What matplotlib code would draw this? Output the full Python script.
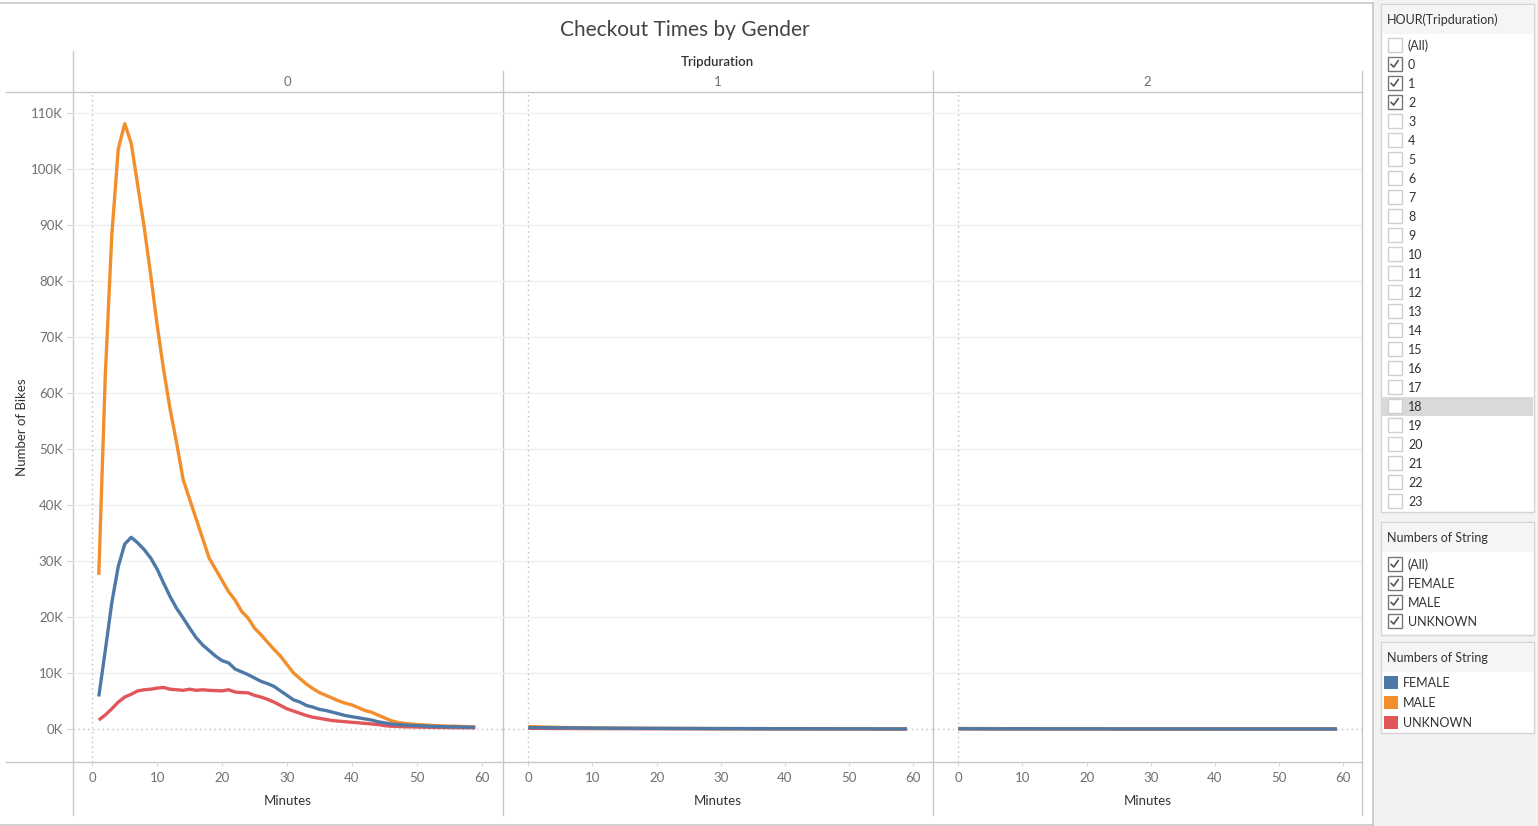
import matplotlib
matplotlib.use('Agg')
import matplotlib.pyplot as plt
from matplotlib.patches import Rectangle
from matplotlib.ticker import FuncFormatter

plt.rcParams['font.family'] = ['Lato', 'DejaVu Sans']

W, H = 1538, 826

# ---- data: number of bikes (thousands) per trip minute, per trip hour ----
hours = ['0', '1', '2']
genders = ['FEMALE', 'MALE', 'UNKNOWN']
colors = {'FEMALE': '#4e79a7', 'MALE': '#f28e2b', 'UNKNOWN': '#e15759'}

minutes_h0 = list(range(1, 60))
minutes_h12 = list(range(0, 60))

female_h0 = [5.8, 14, 22.5, 29, 33, 34.2, 33.2, 32, 30.5, 28.5,
             26, 23.6, 21.5, 19.8, 18, 16.3, 15, 14, 13, 12.2,
             11.8, 10.7, 10.2, 9.7, 9.1, 8.5, 8.1, 7.6, 6.8, 6,
             5.2, 4.8, 4.2, 3.9, 3.5, 3.3, 3.0, 2.7, 2.4, 2.2,
             2.0, 1.8, 1.6, 1.3, 1.1, 0.9, 0.8, 0.7, 0.65, 0.6,
             0.55, 0.5, 0.45, 0.42, 0.4, 0.38, 0.35, 0.32, 0.3]
male_h0 = [27.5, 63, 88, 103.5, 108, 104.5, 97, 89.5, 81, 72,
           64, 57, 51, 44.5, 41, 37.5, 34, 30.5, 28.5, 26.5,
           24.5, 23, 21, 19.8, 18, 16.8, 15.5, 14.2, 13, 11.5,
           10, 9, 8, 7.2, 6.5, 6, 5.5, 5, 4.6, 4.3,
           3.8, 3.3, 3, 2.5, 2, 1.5, 1.2, 1.0, 0.9, 0.8,
           0.75, 0.65, 0.6, 0.55, 0.5, 0.5, 0.45, 0.4, 0.4]
unknown_h0 = [1.6, 2.5, 3.6, 4.8, 5.7, 6.2, 6.8, 7.0, 7.1, 7.3,
              7.4, 7.1, 7.0, 6.9, 7.1, 6.9, 7.0, 6.9, 6.85, 6.8,
              7.0, 6.6, 6.5, 6.45, 6.0, 5.7, 5.3, 4.8, 4.2, 3.6,
              3.2, 2.8, 2.4, 2.1, 1.9, 1.7, 1.5, 1.4, 1.3, 1.2,
              1.1, 1.0, 0.9, 0.8, 0.6, 0.5, 0.45, 0.4, 0.38, 0.35,
              0.33, 0.3, 0.28, 0.27, 0.25, 0.24, 0.23, 0.22, 0.2]

female_h1 = [0.26, 0.25, 0.24, 0.23, 0.22, 0.21, 0.20, 0.19, 0.18, 0.17,
             0.16, 0.16, 0.15, 0.14, 0.14, 0.13, 0.13, 0.12, 0.12, 0.11,
             0.11, 0.10, 0.10, 0.10, 0.09, 0.09, 0.09, 0.08, 0.08, 0.08,
             0.07, 0.07, 0.07, 0.07, 0.06, 0.06, 0.06, 0.06, 0.05, 0.05,
             0.05, 0.05, 0.05, 0.04, 0.04, 0.04, 0.04, 0.04, 0.03, 0.03,
             0.03, 0.03, 0.03, 0.03, 0.02, 0.02, 0.02, 0.02, 0.02, 0.02]
male_h1 = [0.42, 0.40, 0.37, 0.34, 0.31, 0.28, 0.26, 0.24, 0.22, 0.21,
           0.20, 0.19, 0.18, 0.17, 0.16, 0.16, 0.15, 0.14, 0.14, 0.13,
           0.13, 0.12, 0.12, 0.11, 0.11, 0.10, 0.10, 0.10, 0.09, 0.09,
           0.09, 0.08, 0.08, 0.08, 0.07, 0.07, 0.07, 0.07, 0.06, 0.06,
           0.06, 0.06, 0.05, 0.05, 0.05, 0.05, 0.05, 0.04, 0.04, 0.04,
           0.04, 0.04, 0.04, 0.03, 0.03, 0.03, 0.03, 0.03, 0.03, 0.03]
unknown_h1 = [0.12, 0.11, 0.11, 0.10, 0.10, 0.09, 0.09, 0.08, 0.08, 0.08,
              0.07, 0.07, 0.07, 0.06, 0.06, 0.06, 0.06, 0.05, 0.05, 0.05,
              0.05, 0.05, 0.04, 0.04, 0.04, 0.04, 0.04, 0.04, 0.03, 0.03,
              0.03, 0.03, 0.03, 0.03, 0.03, 0.02, 0.02, 0.02, 0.02, 0.02,
              0.02, 0.02, 0.02, 0.02, 0.02, 0.01, 0.01, 0.01, 0.01, 0.01,
              0.01, 0.01, 0.01, 0.01, 0.01, 0.01, 0.01, 0.01, 0.01, 0.01]

female_h2 = [0.05, 0.05, 0.05, 0.05, 0.05, 0.04, 0.04, 0.04, 0.04, 0.04,
             0.04, 0.04, 0.04, 0.03, 0.03, 0.03, 0.03, 0.03, 0.03, 0.03,
             0.03, 0.03, 0.03, 0.03, 0.02, 0.02, 0.02, 0.02, 0.02, 0.02,
             0.02, 0.02, 0.02, 0.02, 0.02, 0.02, 0.02, 0.02, 0.02, 0.02,
             0.01, 0.01, 0.01, 0.01, 0.01, 0.01, 0.01, 0.01, 0.01, 0.01,
             0.01, 0.01, 0.01, 0.01, 0.01, 0.01, 0.01, 0.01, 0.01, 0.01]
male_h2 = [0.09, 0.09, 0.08, 0.08, 0.07, 0.07, 0.07, 0.06, 0.06, 0.06,
           0.06, 0.05, 0.05, 0.05, 0.05, 0.05, 0.05, 0.04, 0.04, 0.04,
           0.04, 0.04, 0.04, 0.04, 0.03, 0.03, 0.03, 0.03, 0.03, 0.03,
           0.03, 0.03, 0.03, 0.03, 0.02, 0.02, 0.02, 0.02, 0.02, 0.02,
           0.02, 0.02, 0.02, 0.02, 0.02, 0.02, 0.02, 0.02, 0.02, 0.01,
           0.01, 0.01, 0.01, 0.01, 0.01, 0.01, 0.01, 0.01, 0.01, 0.01]
unknown_h2 = [0.03, 0.03, 0.03, 0.03, 0.02, 0.02, 0.02, 0.02, 0.02, 0.02,
              0.02, 0.02, 0.02, 0.02, 0.02, 0.02, 0.01, 0.01, 0.01, 0.01,
              0.01, 0.01, 0.01, 0.01, 0.01, 0.01, 0.01, 0.01, 0.01, 0.01,
              0.01, 0.01, 0.01, 0.01, 0.01, 0.01, 0.01, 0.01, 0.01, 0.01,
              0.01, 0.01, 0.01, 0.01, 0.01, 0.01, 0.01, 0.01, 0.01, 0.01,
              0.01, 0.01, 0.01, 0.01, 0.01, 0.01, 0.01, 0.01, 0.01, 0.01]

panels = [
    (minutes_h0, {'FEMALE': female_h0, 'MALE': male_h0, 'UNKNOWN': unknown_h0}),
    (minutes_h12, {'FEMALE': female_h1, 'MALE': male_h1, 'UNKNOWN': unknown_h1}),
    (minutes_h12, {'FEMALE': female_h2, 'MALE': male_h2, 'UNKNOWN': unknown_h2}),
]

yticks = [0, 10, 20, 30, 40, 50, 60, 70, 80, 90, 100, 110]
xticks = [0, 10, 20, 30, 40, 50, 60]
hour_items = ['(All)'] + [str(h) for h in range(24)]
hour_checked = ['0', '1', '2']
highlight_item = '18'
gender_items = ['(All)', 'FEMALE', 'MALE', 'UNKNOWN']

# ---- figure ----
fig = plt.figure(figsize=(W / 100, H / 100), dpi=100)
fig.patch.set_facecolor('white')

ov = fig.add_axes([0, 0, 1, 1], zorder=0)
ov.set_xlim(0, W)
ov.set_ylim(H, 0)
ov.axis('off')

LINE = '#c8c8c8'
TXT = '#333333'
TICK = '#707070'
DY = 1.2  # Lato sits a little high with va='center'

# right-hand sidebar background
ov.add_patch(Rectangle((1373, 0), W - 1373, H, facecolor='#f2f2f2', edgecolor='none'))
# worksheet border
ov.plot([0, 1373], [3, 3], color=LINE, lw=1.2)
ov.plot([1373, 1373], [3, 825], color=LINE, lw=1.2)
ov.plot([0, 1373], [825, 825], color=LINE, lw=1.2)

# pane structure lines
top, bottom = 91.7, 761.7
edges = [72.7, 502.7, 932.7, 1362.3]
ov.plot([6, edges[-1]], [top, top], color=LINE, lw=1)
ov.plot([6, edges[-1]], [bottom, bottom], color=LINE, lw=1)
ov.plot([edges[0], edges[0]], [51, 815], color=LINE, lw=1)
for xe in edges[1:]:
    ov.plot([xe, xe], [71, 815], color=LINE, lw=1)

# title and headers
ov.text(685, 29 + 1.5, 'Checkout Times by Gender', fontsize=15, color='#444444',
        ha='center', va='center')
ov.text((edges[0] + edges[-1]) / 2, 61 + DY, 'Tripduration', fontsize=9.5,
        color=TXT, ha='center', va='center', fontweight='semibold')
for i, h in enumerate(hours):
    ov.text((edges[i] + edges[i + 1]) / 2, 81 + DY, h, fontsize=9.5, color=TICK,
            ha='center', va='center')
    ov.text((edges[i] + edges[i + 1]) / 2, 800 + DY, 'Minutes', fontsize=9.5,
            color=TXT, ha='center', va='center')
ov.text(22, (top + bottom) / 2, 'Number of Bikes', fontsize=9.5, color=TXT,
        rotation=90, ha='center', va='center')

# ---- the three panes ----
# pixel positions of x=0 and x=60 in each pane (Tableau pads the first pane differently)
x0_px = [92.3, 528.3, 958.3]
x60_px = [481.7, 913.3, 1343.3]
y0_px, y110_px = 729.0, 112.5

for i, (mins, series) in enumerate(panels):
    left, right = edges[i], edges[i + 1]
    ax = fig.add_axes([left / W, 1 - bottom / H, (right - left) / W, (bottom - top) / H],
                      zorder=1)
    ax.patch.set_alpha(0)
    sx = (x60_px[i] - x0_px[i]) / 60
    sy = (y0_px - y110_px) / 110
    ax.set_xlim((left - x0_px[i]) / sx, (right - x0_px[i]) / sx)
    ax.set_ylim((y0_px - bottom) / sy, (y0_px - top) / sy)
    for s in ax.spines.values():
        s.set_visible(False)

    for yt in yticks[1:]:
        ax.axhline(yt, color='#efefef', lw=1, zorder=0)
    ax.axhline(0, color='#bdbdbd', lw=1, ls=(0, (1, 2.5)), zorder=0.5)
    ax.axvline(0, color='#bdbdbd', lw=1, ls=(0, (1, 2.5)), zorder=0.5)

    for g in ['UNKNOWN', 'MALE', 'FEMALE']:
        ax.plot(mins, series[g], color=colors[g], lw=2.4, solid_capstyle='butt',
                solid_joinstyle='round', zorder=2)

    ax.set_xticks(xticks)
    ax.set_xticklabels([str(t) for t in xticks])
    ax.tick_params(axis='x', length=3, color='#d8d8d8', labelcolor=TICK,
                   labelsize=9.5, pad=4.5)
    ax.set_yticks(yticks)
    if i == 0:
        ax.yaxis.set_major_formatter(FuncFormatter(lambda v, p: f'{int(v)}K'))
        ax.tick_params(axis='y', length=5, color='#d8d8d8', labelcolor=TICK,
                       labelsize=9.5, pad=2)
    else:
        ax.tick_params(axis='y', length=0, labelleft=False)

# ---- filter cards ----
def card(y_top, y_bot, title):
    ov.add_patch(Rectangle((1381, y_top), 152.5, y_bot - y_top, facecolor='white',
                           edgecolor='#d4d4d4', lw=1, zorder=1))
    ov.add_patch(Rectangle((1381.5, y_top + 0.5), 151.5, 29, facecolor='#f5f5f5',
                           edgecolor='none', zorder=1.1))
    ov.text(1387, y_top + 14.5 + DY, title, fontsize=9, color=TXT, va='center',
            ha='left', zorder=3)


def checkbox(y, label, checked):
    ov.add_patch(Rectangle((1387.5, y - 7), 14, 14, facecolor='white',
                           edgecolor='#777777' if checked else '#cfcfcf', lw=1, zorder=3))
    if checked:
        ov.plot([1391, 1393.7, 1398.3], [y + 0.3, y + 3, y - 3.5], color='#555555',
                lw=1.2, zorder=4, solid_capstyle='round')
    ov.text(1408, y + DY, label, fontsize=9, color=TXT, va='center', ha='left', zorder=3)


card(4, 512, 'HOUR(Tripduration)')
for k, item in enumerate(hour_items):
    yy = 45 + 19 * k
    if item == highlight_item:
        ov.add_patch(Rectangle((1381.5, yy - 9.5), 151.5, 19, facecolor='#d9d9d9',
                               edgecolor='none', zorder=2))
    checkbox(yy, item, item in hour_checked)

card(522, 635, 'Numbers of String')
for k, item in enumerate(gender_items):
    checkbox(564 + 19 * k, item, True)

card(642, 733, 'Numbers of String')
for k, g in enumerate(genders):
    yy = 682 + 20 * k
    ov.add_patch(Rectangle((1384, yy - 6.5), 13.5, 13.5, facecolor=colors[g],
                           edgecolor='none', zorder=3))
    ov.text(1403, yy + DY, g, fontsize=9, color=TXT, va='center', ha='left', zorder=3)

fig.savefig('out.png', dpi=100)
